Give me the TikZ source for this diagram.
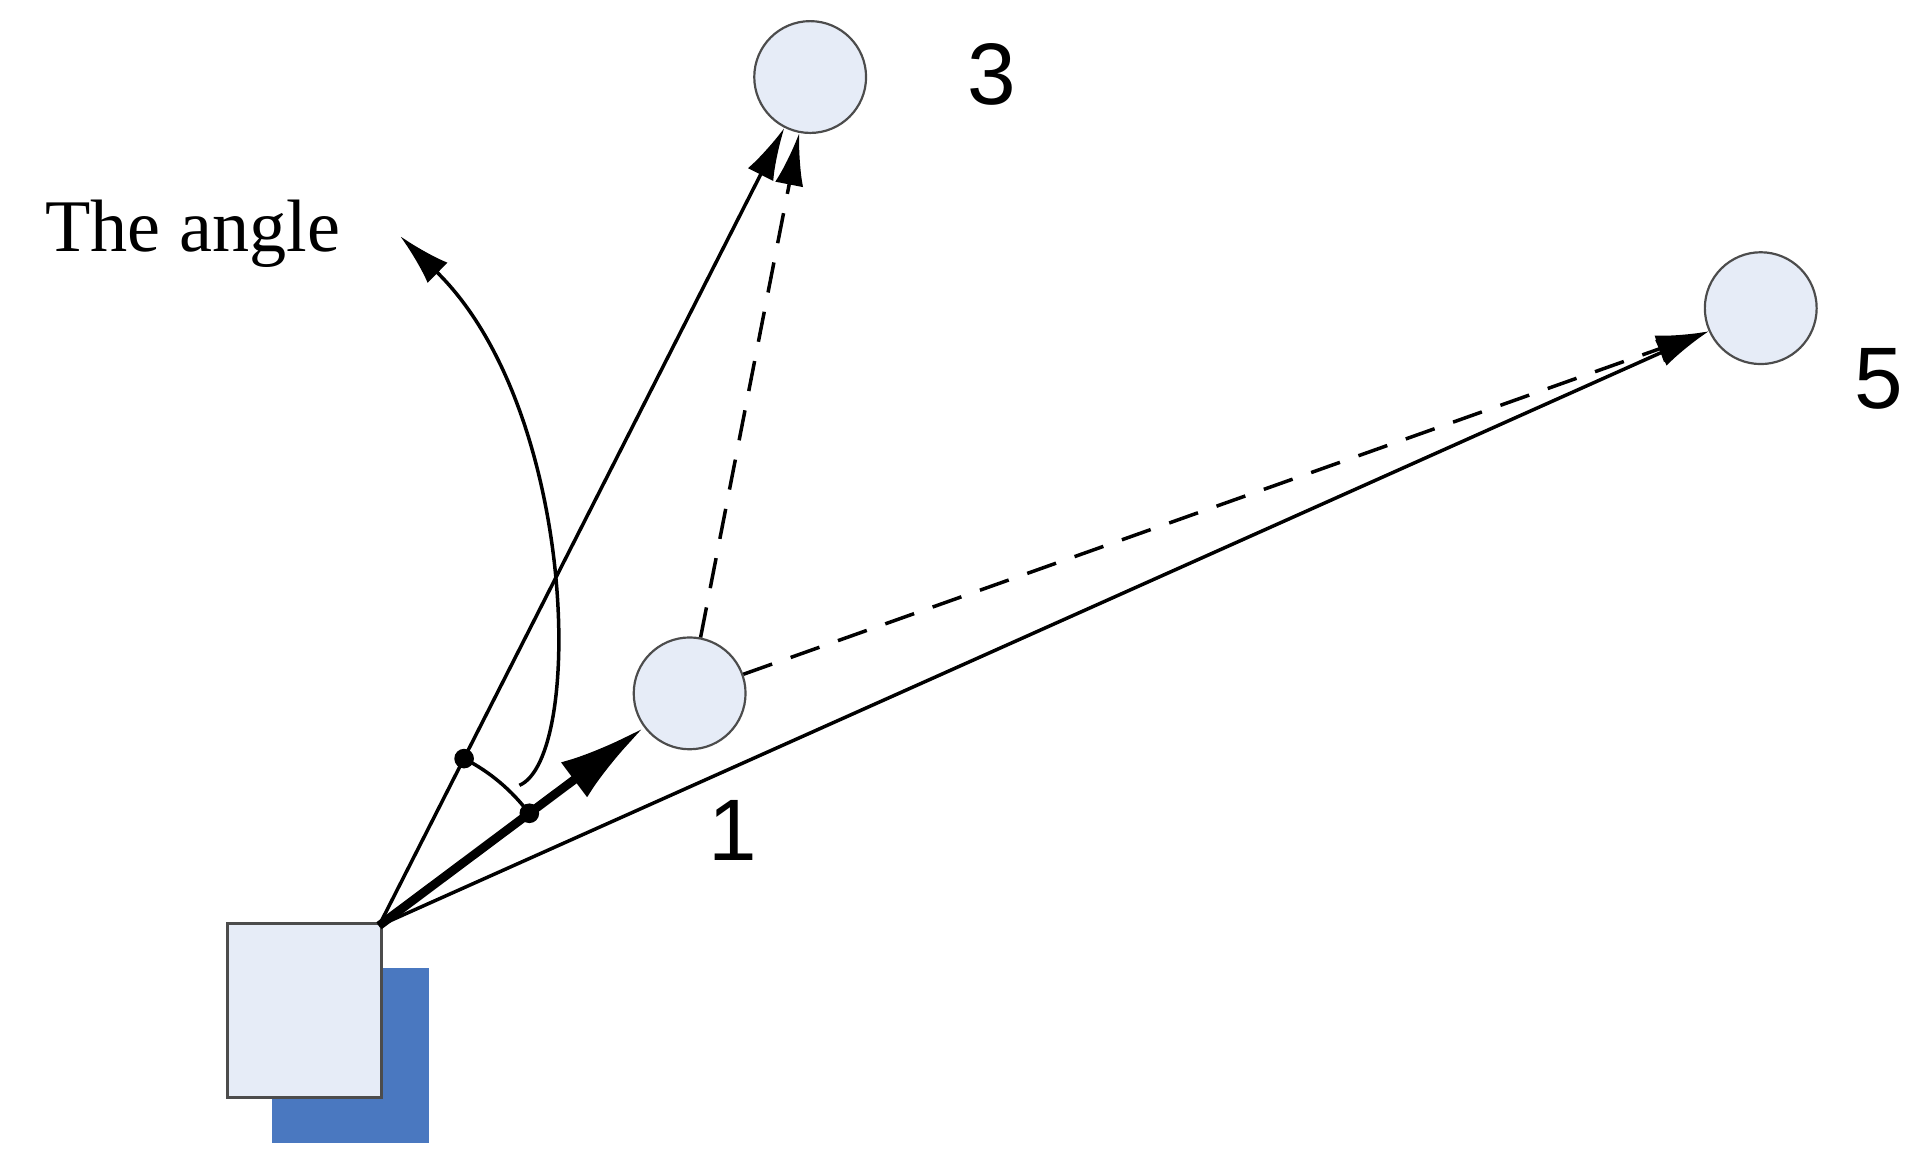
\documentclass[tikz,border=0pt]{standalone}
\usepackage{fontspec}
\setmainfont{Liberation Serif}
\newfontfamily\numfont{Liberation Sans}
\usetikzlibrary{arrows.meta}
\definecolor{cfill}{HTML}{E6ECF7}
\definecolor{shadowblue}{HTML}{4A78C0}
\begin{document}
\begin{tikzpicture}[x=0.02cm,y=-0.02cm,
  circ/.style={circle,draw=black!70,fill=cfill,minimum size=1.8cm,inner sep=0pt,line width=1pt},
  lbl/.style={font=\numfont\fontsize{40}{40}\selectfont},
  arr/.style={-{Latex[length=24pt,width=13pt]},line width=1.6pt},
  darr/.style={arr,dash pattern=on 14pt off 9pt}]
\useasboundingbox (0,0) rectangle (1550,932);
\fill[shadowblue] (219,779) rectangle (345,920);
\node[draw=black!70,fill=cfill,line width=1.2pt,minimum width=2.48cm,minimum height=2.8cm,inner sep=0pt] (sq) at (245,813) {};
\coordinate (O) at (305,745);
\node[circ] (c1) at (555,558) {};
\node[circ] (c3) at (652,62) {};
\node[circ] (c5) at (1417,248) {};
\node[lbl] (l1) at (590,668) {1};
\node[lbl] (l3) at (798,60) {3};
\node[lbl] (l5) at (1512,305) {5};
\draw[arr] (O) -- (c3);
\draw[arr] (O) -- (c5.204);
\draw[-{Latex[length=40pt,width=20pt]},line width=4pt] (O) -- (c1);
\draw[darr] (c1) -- (c3);
\draw[darr] (c1) -- (c5.204);
\coordinate (d1) at (373.5,610.5);
\coordinate (d2) at (426,654.5);
\fill (d1) circle (4.5pt);
\fill (d2) circle (4.5pt);
\draw[line width=1.6pt] (d1) arc[start angle=-63,end angle=-36.8,radius=151];
\node[font=\fontsize{34}{34}\selectfont] (t) at (155,188) {The angle};
\coordinate (a0) at (418,632);
\coordinate (a1) at (322,190);
\draw[arr] (a0) .. controls (470,610) and (465,330) .. (a1);
\end{tikzpicture}
\end{document}
